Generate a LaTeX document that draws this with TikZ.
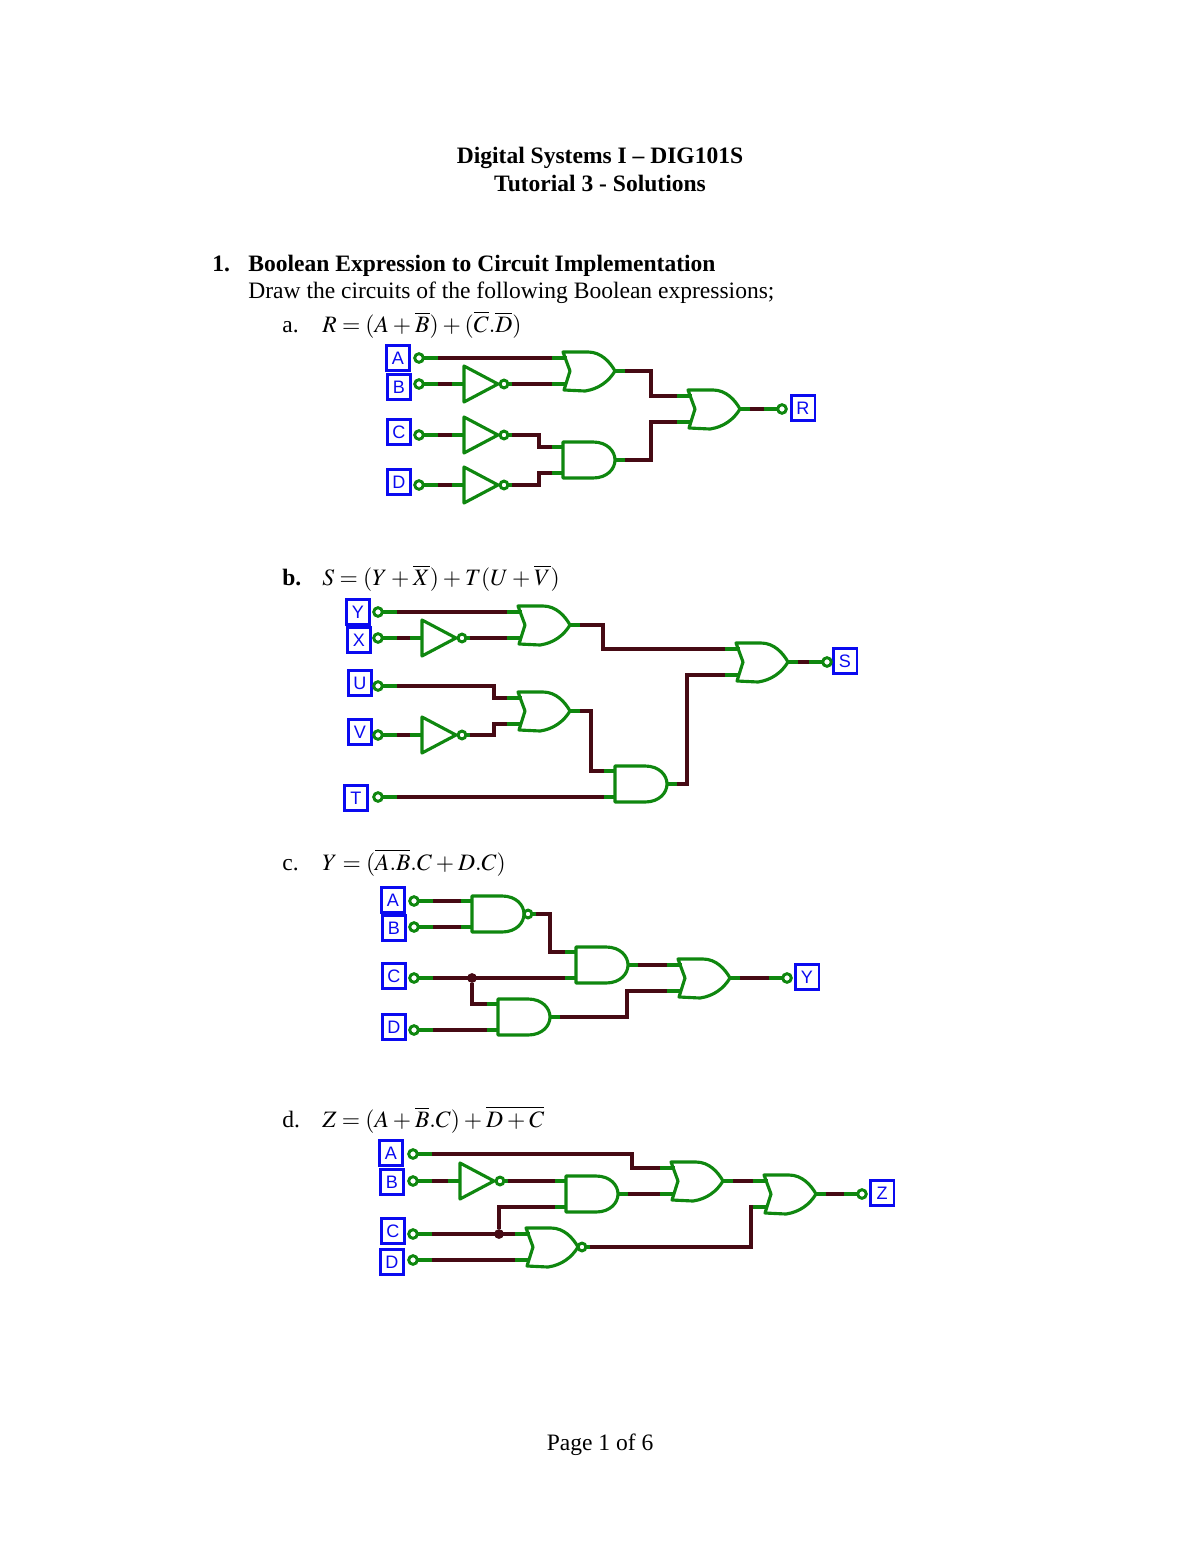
\documentclass[tikz,border=0pt]{standalone}
\usepackage{mathptmx}
\usepackage[no-math]{fontspec}
\setmainfont{Liberation Serif}
\newfontfamily\labelfont{Liberation Sans}
\usetikzlibrary{calc}
\usetikzlibrary{positioning}
\definecolor{gatecol}{RGB}{15,135,15}
\definecolor{wirecol}{RGB}{70,10,20}
\definecolor{boxcol}{RGB}{10,10,240}
\newcommand{\eqnspacing}{\medmuskip=3mu\relax\thickmuskip=4mu\relax}
\tikzset{
    gate/.style={draw=gatecol,line width=1.6pt,line join=round},
    wire/.style={draw=wirecol,line width=1.75pt},
    bubble/.style={draw=gatecol,line width=1.5pt,fill=white},
    termbox/.style={draw=boxcol,line width=1.5pt,text=boxcol,minimum width=12.2pt,minimum height=12.8pt,inner sep=0pt,font=\labelfont\fontsize{9.2}{10}\selectfont},
    dot/.style={circle,fill=wirecol,inner sep=0pt,minimum size=5pt},
    txt/.style={anchor=base west,inner sep=0pt,font=\fontsize{12}{14}\selectfont},
    ctxt/.style={anchor=base,inner sep=0pt,font=\fontsize{12}{14}\selectfont},
    orbody/.pic={
        \draw[gate] (0,-19) -- (25,-19) .. controls (38,-19) and (47,-9) .. (52,0)
            .. controls (46,10) and (36,18) .. (22,20) -- (1,19) -- (7,0) -- cycle;
        \draw[gate] (-11,-13) -- (4,-13);
        \draw[gate] (-11,13) -- (4,13);
    },
    andbody/.pic={
        \draw[gate] (0,-18) -- (30,-18) .. controls (44,-18) and (52,-9) .. (52,0)
            .. controls (52,9) and (44,18) .. (30,18) -- (0,18) -- cycle;
        \draw[gate] (-11,-13) -- (0,-13);
        \draw[gate] (-11,13) -- (0,13);
    },
    orgate/.pic={
        \pic (-g) at (0,0) {orbody};
        \draw[gate] (52,0) -- (62,0);
        \coordinate (-a) at (-11,-13);
        \coordinate (-b) at (-11,13);
        \coordinate (-o) at (62,0);
    },
    norgate/.pic={
        \pic (-g) at (0,0) {orbody};
        \draw[gate] (56,0) -- (64,0);
        \draw[bubble] (56,0) circle (2pt);
        \coordinate (-a) at (-11,-13);
        \coordinate (-b) at (-11,13);
        \coordinate (-o) at (64,0);
    },
    andgate/.pic={
        \pic (-g) at (0,0) {andbody};
        \draw[gate] (52,0) -- (62,0);
        \coordinate (-a) at (-11,-13);
        \coordinate (-b) at (-11,13);
        \coordinate (-o) at (62,0);
    },
    nandgate/.pic={
        \pic (-g) at (0,0) {andbody};
        \draw[gate] (56,0) -- (64,0);
        \draw[bubble] (56,0) circle (2pt);
        \coordinate (-a) at (-11,-13);
        \coordinate (-b) at (-11,13);
        \coordinate (-o) at (64,0);
    },
    notgate/.pic={
        \draw[gate] (0,-18) -- (34,0) -- (0,18) -- cycle;
        \draw[gate] (-12,0) -- (0,0);
        \draw[gate] (40,0) -- (48,0);
        \draw[bubble] (40,0) circle (2pt);
        \coordinate (-a) at (-12,0);
        \coordinate (-o) at (48,0);
    },
    inpin/.pic={
        \draw[gate] (0,0) -- (19,0);
        \draw[bubble] (0,0) circle (2.2pt);
        \coordinate (-o) at (19,0);
    },
    outpin/.pic={
        \draw[gate] (-18,0) -- (0,0);
        \draw[bubble] (0,0) circle (2.2pt);
        \coordinate (-a) at (-18,0);
    },
}
\begin{document}
\begin{tikzpicture}[x=0.51pt,y=-0.51pt]
    \useasboundingbox (0,0) rectangle (1200,1553);

    % page text
    \node[ctxt] (title) at (600,164) {\textbf{Digital Systems I -- DIG101S}};
    \node[ctxt] (subtitle) at (600,192) {\textbf{Tutorial 3 - Solutions}};
    \node[txt] (qnum) at (212,271.5) {\textbf{1.}};
    \node[txt] (qhead) at (248,271.5) {\textbf{Boolean Expression to Circuit Implementation}};
    \node[txt] (qtext) at (248,298) {Draw the circuits of the following Boolean expressions;};
    \node[ctxt] (pageno) at (600,1450) {Page 1 of 6};

    \node[txt] (la) at (282,332) {a.};
    \node[txt] (ea) at (322,332) {$\eqnspacing R = (A+\overline{B})+(\overline{C}.\overline{D})$};
    \node[txt] (lb) at (282,585) {\textbf{b.}};
    \node[txt] (eb) at (322,585) {$\eqnspacing S = (Y+\overline{X})+T(U+\overline{V})$};
    \node[txt] (lc) at (282,870) {c.};
    \node[txt] (ec) at (322,870) {$\eqnspacing Y = (\overline{A.B}.C + D.C)$};
    \node[txt] (ld) at (282,1127) {d.};
    \node[txt] (ed) at (322,1127) {$\eqnspacing Z = (A+\overline{B}.C)+\overline{D+C}$};

    % circuit a
    \node[termbox] (aA) at (398,358) {A};
    \node[termbox] (aB) at (399,387) {B};
    \node[termbox] (aC) at (399,432) {C};
    \node[termbox] (aD) at (399,482) {D};
    \node[termbox] (aR) at (803,408) {R};
    \pic (apA) at (419,358) {inpin};
    \pic (apB) at (419,384) {inpin};
    \pic (apC) at (419,435) {inpin};
    \pic (apD) at (419,485) {inpin};
    \pic (apR) at (782,409) {outpin};
    \pic (an1) at (464,384) {notgate};
    \pic (an2) at (464,435) {notgate};
    \pic (an3) at (464,485) {notgate};
    \pic (aor1) at (563,371) {orgate};
    \pic (aand) at (563,460) {andgate};
    \pic (aor2) at (688,409) {orgate};
    \draw[wire] (apA-o) -- (aor1-a);
    \draw[wire] (apB-o) -- (an1-a);
    \draw[wire] (an1-o) -- (aor1-b);
    \draw[wire] (apC-o) -- (an2-a);
    \draw[wire] (apD-o) -- (an3-a);
    \draw[wire] (an2-o) -| ($(aand-a)+(-13,0)$) -- (aand-a);
    \draw[wire] (an3-o) -| ($(aand-b)+(-13,0)$) -- (aand-b);
    \draw[wire] (aor1-o) -| ($(aor2-a)+(-26,0)$) -- (aor2-a);
    \draw[wire] (aand-o) -| ($(aor2-b)+(-26,0)$) -- (aor2-b);
    \draw[wire] (aor2-o) -- (apR-a);

    % circuit b
    \node[termbox] (bY) at (358,612) {Y};
    \node[termbox] (bX) at (359,640) {X};
    \node[termbox] (bU) at (360,683) {U};
    \node[termbox] (bV) at (360,732) {V};
    \node[termbox] (bT) at (356,798) {T};
    \node[termbox] (bS) at (845,661) {S};
    \pic (bpY) at (378,612) {inpin};
    \pic (bpX) at (378,638) {inpin};
    \pic (bpU) at (378,686) {inpin};
    \pic (bpV) at (378,735) {inpin};
    \pic (bpT) at (378,797) {inpin};
    \pic (bpS) at (827,662) {outpin};
    \pic (bn1) at (422,638) {notgate};
    \pic (bn2) at (422,735) {notgate};
    \pic (bor1) at (518,625) {orgate};
    \pic (bor2) at (518,711) {orgate};
    \pic (band) at (615,784) {andgate};
    \pic (bor3) at (736,662) {orgate};
    \draw[wire] (bpY-o) -- (bor1-a);
    \draw[wire] (bpX-o) -- (bn1-a);
    \draw[wire] (bn1-o) -- (bor1-b);
    \draw[wire] (bpU-o) -| ($(bor2-a)+(-13,0)$) -- (bor2-a);
    \draw[wire] (bpV-o) -- (bn2-a);
    \draw[wire] (bn2-o) -| ($(bor2-b)+(-13,0)$) -- (bor2-b);
    \draw[wire] (bor2-o) -| ($(band-a)+(-13,0)$) -- (band-a);
    \draw[wire] (bpT-o) -- (band-b);
    \draw[wire] (bor1-o) -| ($(bor3-a)+(-122,0)$) -- (bor3-a);
    \draw[wire] (band-o) -| ($(bor3-b)+(-38,0)$) -- (bor3-b);
    \draw[wire] (bor3-o) -- (bpS-a);

    % circuit c
    \node[termbox] (cA) at (393,900) {A};
    \node[termbox] (cB) at (394,928) {B};
    \node[termbox] (cC) at (394,976) {C};
    \node[termbox] (cD) at (394,1027) {D};
    \node[termbox] (cY) at (807,977) {Y};
    \pic (cpA) at (414,901) {inpin};
    \pic (cpB) at (414,927) {inpin};
    \pic (cpC) at (414,978) {inpin};
    \pic (cpD) at (414,1030) {inpin};
    \pic (cpY) at (787,978) {outpin};
    \pic (cnand) at (472,914) {nandgate};
    \pic (cand1) at (576,965) {andgate};
    \pic (cand2) at (498,1017) {andgate};
    \pic (cor) at (678,978) {orgate};
    \node[dot] (cj) at (472,978) {};
    \draw[wire] (cpA-o) -- (cnand-a);
    \draw[wire] (cpB-o) -- (cnand-b);
    \draw[wire] (cnand-o) -| ($(cand1-a)+(-15,0)$) -- (cand1-a);
    \draw[wire] (cpC-o) -- (cand1-b);
    \draw[wire] (cj) |- (cand2-a);
    \draw[wire] (cpD-o) -- (cand2-b);
    \draw[wire] (cand1-o) -- (cor-a);
    \draw[wire] (cand2-o) -| ($(cor-b)+(-40,0)$) -- (cor-b);
    \draw[wire] (cor-o) -- (cpY-a);

    % circuit d
    \node[termbox] (dA) at (391,1153) {A};
    \node[termbox] (dB) at (392,1182) {B};
    \node[termbox] (dC) at (393,1231) {C};
    \node[termbox] (dD) at (392,1262) {D};
    \node[termbox] (dZ) at (882,1193) {Z};
    \pic (dpA) at (413,1154) {inpin};
    \pic (dpB) at (413,1181) {inpin};
    \pic (dpC) at (413,1234) {inpin};
    \pic (dpD) at (413,1260) {inpin};
    \pic (dpZ) at (862,1194) {outpin};
    \pic (dn) at (460,1181) {notgate};
    \pic (dand) at (566,1194) {andgate};
    \pic (dor1) at (671,1181) {orgate};
    \pic (dor2) at (764,1194) {orgate};
    \pic (dnor) at (526,1247) {norgate};
    \node[dot] (dj) at (499,1234) {};
    \draw[wire] (dpA-o) -| ($(dor1-a)+(-28,0)$) -- (dor1-a);
    \draw[wire] (dpB-o) -- (dn-a);
    \draw[wire] (dn-o) -- (dand-a);
    \draw[wire] (dpC-o) -- (dnor-a);
    \draw[wire] (dpD-o) -- (dnor-b);
    \draw[wire] (dj) |- (dand-b);
    \draw[wire] (dand-o) -- (dor1-b);
    \draw[wire] (dor1-o) -- (dor2-a);
    \draw[wire] (dnor-o) -| ($(dor2-b)+(-2,0)$) -- (dor2-b);
    \draw[wire] (dor2-o) -- (dpZ-a);
\end{tikzpicture}
\end{document}
